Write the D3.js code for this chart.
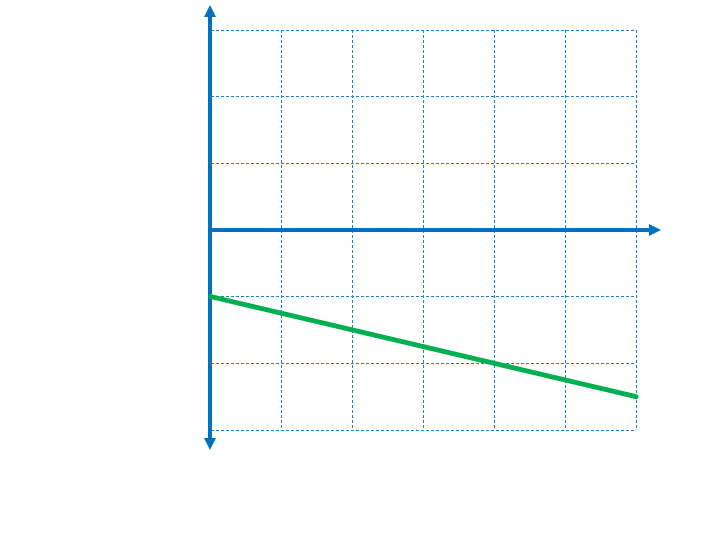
<!DOCTYPE html>
<html>
<head>
<meta charset="utf-8">
<script src="https://cdn.jsdelivr.net/npm/d3@7"></script>
<style>
  body { margin: 0; background: #fff; }
</style>
</head>
<body>
<div id="chart"></div>
<script>
// Grid ticks and the line's end points (in chart units)
const xTicks = [0, 1, 2, 3, 4, 5, 6];
const yTicks = [-3, -2, -1, 0, 1, 2, 3];
const lineX = [0, 6];
const lineY = [-1, -2.5];

const W = 720, H = 540;
const blue = "#0070C0";
const green = "#00B050";

const svg = d3.select("#chart").append("svg")
  .attr("width", W)
  .attr("height", H);

// Scales
const x = d3.scaleLinear().domain([0, 6]).range([211, 636]);
const y = d3.scaleLinear().domain([3, -3]).range([30, 430]);

// Arrow marker
svg.append("defs").append("marker")
  .attr("id", "arrow")
  .attr("viewBox", "0 0 10 10")
  .attr("refX", 0)
  .attr("refY", 5)
  .attr("markerUnits", "userSpaceOnUse")
  .attr("markerWidth", 12)
  .attr("markerHeight", 13)
  .attr("orient", "auto")
  .append("path")
  .attr("d", "M0,0 L10,5 L0,10 Z")
  .attr("fill", blue);

// Dashed grid
const grid = svg.append("g")
  .attr("stroke", "#1a7fd0")
  .attr("stroke-width", 1)
  .attr("stroke-dasharray", "3,2")
  .attr("shape-rendering", "crispEdges");

grid.selectAll("line.v")
  .data(xTicks.slice(1))
  .enter()
  .append("line")
  .attr("x1", (d) => x(d))
  .attr("x2", (d) => x(d))
  .attr("y1", y(3))
  .attr("y2", y(-3));

grid.selectAll("line.h")
  .data(yTicks.filter((d) => d !== 0))
  .enter()
  .append("line")
  .attr("x1", x(0))
  .attr("x2", x(6))
  .attr("y1", (d) => y(d))
  .attr("y2", (d) => y(d));

// Axes with arrows
svg.append("line")
  .attr("x1", x(0))
  .attr("x2", x(6) + 13)
  .attr("y1", y(0))
  .attr("y2", y(0))
  .attr("stroke", blue)
  .attr("stroke-width", 4)
  .attr("marker-end", "url(#arrow)");

svg.append("line")
  .attr("x1", x(0) - 1)
  .attr("x2", x(0) - 1)
  .attr("y1", y(0))
  .attr("y2", y(3) - 13)
  .attr("stroke", blue)
  .attr("stroke-width", 4)
  .attr("marker-end", "url(#arrow)");

svg.append("line")
  .attr("x1", x(0) - 1)
  .attr("x2", x(0) - 1)
  .attr("y1", y(0))
  .attr("y2", y(-3) + 8)
  .attr("stroke", blue)
  .attr("stroke-width", 4)
  .attr("marker-end", "url(#arrow)");

// The green line
svg.append("path")
  .datum(lineX.map((d, i) => [d, lineY[i]]))
  .attr("fill", "none")
  .attr("stroke", green)
  .attr("stroke-width", 5)
  .attr("stroke-linecap", "round")
  .attr("d", d3.line().x((d) => x(d[0])).y((d) => y(d[1])));
</script>
</body>
</html>
